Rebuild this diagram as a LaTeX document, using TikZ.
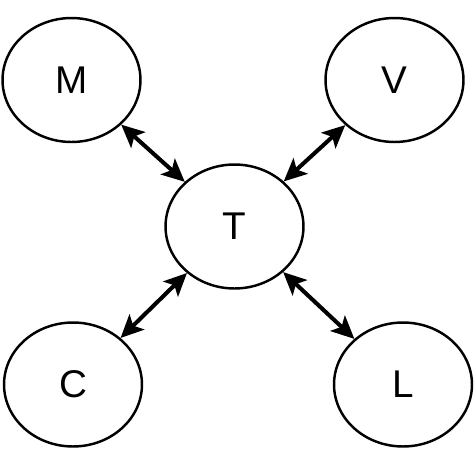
\documentclass[tikz,border=0pt]{standalone}
\usepackage{fontspec}
\setmainfont{Liberation Sans}
\usetikzlibrary{shapes.geometric,arrows.meta}
\begin{document}
\begin{tikzpicture}[x=0.02cm, y=-0.02cm, auto, main node/.style={ellipse,draw,line width=1.4pt,minimum width=2.76cm,minimum height=2.48cm,inner sep=0pt}]%fill=white,
\useasboundingbox (0,0) rectangle (474,474);
\begin{scope}[every node/.style={font=\fontsize{22}{24}\selectfont}]
\node[main node] (m) at (71.5,80) {M};
\node[main node] (v) at (394.5,80) {V};
\node[main node] (t) at (234.5,226.5) {T};
\node[main node] (c) at (73,384.5) {C};
\node[main node] (l) at (403,384.5) {L};
%\node[main node] () at (,) {};
\end{scope}
\begin{scope}[line width=2.3pt, {Stealth[length=13pt,width=12pt,inset=3pt]}-{Stealth[length=13pt,width=12pt,inset=3pt]}]
\draw  (m) edge node{} (t);
\draw  (v) edge node{} (t);
\draw  (c) edge node{} (t);
\draw  (l) edge node{} (t);
%\draw  () edge node{} ();
\end{scope}
\end{tikzpicture}
\end{document}
